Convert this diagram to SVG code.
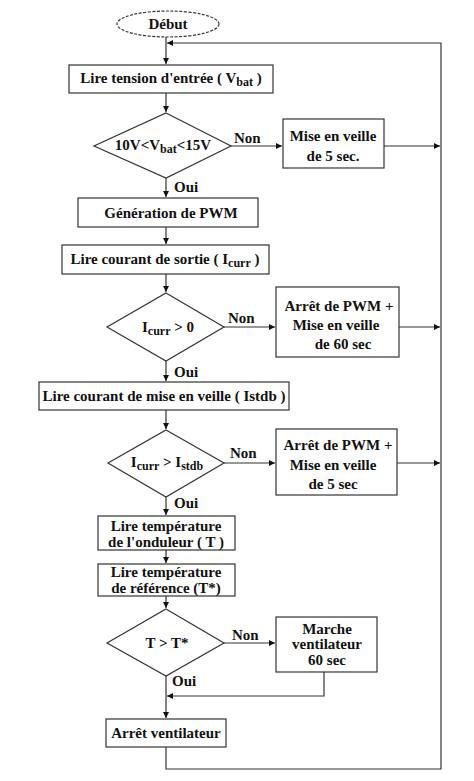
<svg xmlns="http://www.w3.org/2000/svg" width="474" height="781" viewBox="0 0 474 781">
<defs>
<marker id="ah" viewBox="0 0 8 8" refX="8" refY="4" markerWidth="6" markerHeight="6" orient="auto" markerUnits="userSpaceOnUse">
<path d="M0,0 L8,4 L0,8 z" fill="#111"/>
</marker>
<style>
.n{fill:#fff;stroke:#333;stroke-width:1.2}
.t{font-family:"Liberation Serif","Times New Roman",serif;font-weight:bold;font-size:15px;fill:#111;text-anchor:middle}
.l{font-family:"Liberation Serif","Times New Roman",serif;font-weight:bold;font-size:15px;fill:#111}
.s{font-size:12px}
.c{fill:none;stroke:#333;stroke-width:1.2}
</style>
</defs>
<rect width="474" height="781" fill="#fff"/>
<g id="connectors">
<path class="c" d="M166,37 V64" marker-end="url(#ah)"/>
<path class="c" d="M166,93 V112" marker-end="url(#ah)"/>
<path class="c" d="M231,146 H282" marker-end="url(#ah)"/>
<path class="c" d="M384,146 H440" marker-end="url(#ah)"/>
<path class="c" d="M166,178 V197" marker-end="url(#ah)"/>
<path class="c" d="M166,227 V244" marker-end="url(#ah)"/>
<path class="c" d="M166,274 V292" marker-end="url(#ah)"/>
<path class="c" d="M224,327 H275" marker-end="url(#ah)"/>
<path class="c" d="M399,327 H440" marker-end="url(#ah)"/>
<path class="c" d="M166,361 V381" marker-end="url(#ah)"/>
<path class="c" d="M166,410 V429" marker-end="url(#ah)"/>
<path class="c" d="M224,463 H275" marker-end="url(#ah)"/>
<path class="c" d="M397,463 H440" marker-end="url(#ah)"/>
<path class="c" d="M166,497 V515" marker-end="url(#ah)"/>
<path class="c" d="M166,550 V563" marker-end="url(#ah)"/>
<path class="c" d="M166,596 V608" marker-end="url(#ah)"/>
<path class="c" d="M224,643 H275" marker-end="url(#ah)"/>
<path class="c" d="M324,672 V696 H167" marker-end="url(#ah)"/>
<path class="c" d="M166,676 V718" marker-end="url(#ah)"/>
<path class="c" d="M166,747 V769 H441 V43 H167" marker-end="url(#ah)"/>
<text class="l" x="234" y="143">Non</text>
<text class="l" x="174" y="192">Oui</text>
<text class="l" x="228" y="323">Non</text>
<text class="l" x="174" y="377">Oui</text>
<text class="l" x="230" y="458">Non</text>
<text class="l" x="174" y="508">Oui</text>
<text class="l" x="232" y="640">Non</text>
<text class="l" x="172" y="686">Oui</text>
</g>
<g id="debut">
<ellipse class="n" cx="168" cy="24" rx="51" ry="13" stroke-dasharray="3,1.5"/>
<text class="t" x="168" y="29">Début</text>
</g>
<g id="lire-vbat">
<rect class="n" x="69" y="65" width="204" height="28"/>
<text class="t" x="171" y="83">Lire tension d'entrée ( V<tspan class="s" dy="3">bat</tspan><tspan dy="-3"> )</tspan></text>
</g>
<g id="test-vbat">
<polygon class="n" points="166,113 231,146 166,178 94,146"/>
<text class="t" x="163" y="150">10V&lt;V<tspan class="s" dy="3">bat</tspan><tspan dy="-3">&lt;15V</tspan></text>
</g>
<g id="veille5">
<rect class="n" x="283" y="119" width="101" height="49"/>
<text class="t" x="333" y="141">Mise en veille</text>
<text class="t" x="333" y="161">de 5 sec.</text>
</g>
<g id="gen-pwm">
<rect class="n" x="78" y="198" width="180" height="29"/>
<text class="t" x="171" y="218">Génération de PWM</text>
</g>
<g id="lire-icurr">
<rect class="n" x="62" y="245" width="207" height="29"/>
<text class="t" x="165" y="264">Lire courant de sortie  ( I<tspan class="s" dy="3">curr</tspan><tspan dy="-3"> )</tspan></text>
</g>
<g id="test-icurr">
<polygon class="n" points="166,293 224,327 166,361 107,327"/>
<text class="t" x="168" y="332">I<tspan class="s" dy="3">curr</tspan><tspan dy="-3"> &gt; 0</tspan></text>
</g>
<g id="arret60">
<rect class="n" x="276" y="287" width="123" height="70"/>
<text class="t" x="339" y="311">Arrêt de PWM +</text>
<text class="t" x="336" y="330">Mise en veille</text>
<text class="t" x="343" y="349">de 60 sec</text>
</g>
<g id="lire-istdb">
<rect class="n" x="39" y="382" width="250" height="28"/>
<text class="t" x="164" y="401">Lire courant de mise en veille ( Istdb )</text>
</g>
<g id="test-istdb">
<polygon class="n" points="166,430 224,463 166,497 108,463"/>
<text class="t" x="167" y="467">I<tspan class="s" dy="3">curr</tspan><tspan dy="-3"> &gt; I</tspan><tspan class="s" dy="3">stdb</tspan></text>
</g>
<g id="arret5">
<rect class="n" x="276" y="429" width="121" height="66"/>
<text class="t" x="338" y="450">Arrêt de PWM +</text>
<text class="t" x="333" y="470">Mise en veille</text>
<text class="t" x="333" y="489">de 5 sec</text>
</g>
<g id="lire-t">
<rect class="n" x="98" y="516" width="137" height="34"/>
<text class="t" x="166" y="531">Lire température</text>
<text class="t" x="166" y="547">de l'onduleur ( T )</text>
</g>
<g id="lire-tref">
<rect class="n" x="98" y="564" width="137" height="32"/>
<text class="t" x="166" y="577">Lire température</text>
<text class="t" x="166" y="593">de référence (T*)</text>
</g>
<g id="test-t">
<polygon class="n" points="166,609 224,643 166,676 107,643"/>
<text class="t" x="167" y="648">T &gt; T*</text>
</g>
<g id="marche">
<rect class="n" x="276" y="617" width="101" height="55"/>
<text class="t" x="327" y="634">Marche</text>
<text class="t" x="327" y="649">ventilateur</text>
<text class="t" x="327" y="665">60 sec</text>
</g>
<g id="arret-vent">
<rect class="n" x="106" y="719" width="120" height="28"/>
<text class="t" x="166" y="738">Arrêt ventilateur</text>
</g>
</svg>
